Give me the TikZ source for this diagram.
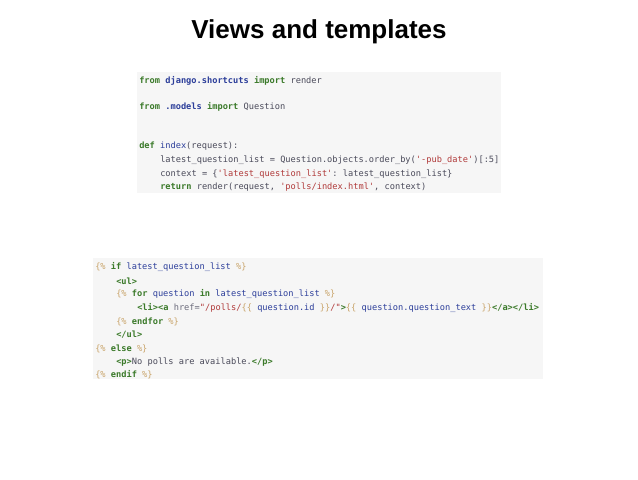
\documentclass[tikz,border=0pt]{standalone}
\usepackage{fontspec}
\setmainfont{Liberation Sans}
\setmonofont{DejaVu Sans Mono}
\definecolor{bg}{HTML}{F6F6F6}
\definecolor{kwc}{HTML}{3B7A2A}
\definecolor{nmc}{HTML}{2C3E9A}
\definecolor{stc}{HTML}{B03A3A}
\definecolor{dlc}{HTML}{C9A46A}
\definecolor{txc}{HTML}{4A4A5A}
\definecolor{atc}{HTML}{6A6A7A}
\newcommand{\kw}[1]{\textcolor{kwc}{\bfseries #1}}
\newcommand{\nm}[1]{\textcolor{nmc}{#1}}
\newcommand{\nb}[1]{\textcolor{nmc}{\bfseries #1}}
\newcommand{\st}[1]{\textcolor{stc}{#1}}
\newcommand{\dl}[1]{\textcolor{dlc}{#1}}
\newcommand{\at}[1]{\textcolor{atc}{#1}}
\begin{document}
\begin{tikzpicture}[x=0.75pt,y=-0.75pt,
  code/.style={anchor=west,inner sep=0pt,font=\ttfamily\fontsize{6.5pt}{7pt}\selectfont,text=txc},
  box/.style={fill=bg,draw=none}]
\useasboundingbox (0,0) rectangle (638,479);
\node[font=\bfseries\fontsize{19.5pt}{22pt}\selectfont,inner sep=0pt] (title) at (319,32) {Views and templates};
\fill[bg] (137,72) rectangle (501,193);
\node[code] (a1) at (139,81) {\kw{from} \nb{django.shortcuts} \kw{import} render};
\node[code] (a2) at (139,107) {\kw{from} \nb{.models} \kw{import} Question};
\node[code] (a3) at (139,146) {\kw{def} \nm{index}(request):};
\node[code] (a4) at (160,160) {latest\_question\_list = Question.objects.order\_by(\st{'-pub\_date'})[:5]};
\node[code] (a5) at (160,174) {context = \{\st{'latest\_question\_list'}: latest\_question\_list\}};
\node[code] (a6) at (160,187) {\kw{return} render(request, \st{'polls/index.html'}, context)};
\fill[bg] (93,258) rectangle (543,379);
\node[code] (b1) at (95,267) {\dl{\{\%} \kw{if} \nm{latest\_question\_list} \dl{\%\}}};
\node[code] (b2) at (116,281) {\kw{<ul>}};
\node[code] (b3) at (116,294) {\dl{\{\%} \kw{for} \nm{question} \kw{in} \nm{latest\_question\_list} \dl{\%\}}};
\node[code] (b4) at (137,308) {\kw{<li><a} \at{href=}\st{"/polls/}\dl{\{\{} \nm{question.id} \dl{\}\}}\st{/"}\kw{>}\dl{\{\{} \nm{question.question\_text} \dl{\}\}}\kw{</a></li>}};
\node[code] (b5) at (116,322) {\dl{\{\%} \kw{endfor} \dl{\%\}}};
\node[code] (b6) at (116,335) {\kw{</ul>}};
\node[code] (b7) at (95,349) {\dl{\{\%} \kw{else} \dl{\%\}}};
\node[code] (b8) at (116,362) {\kw{<p>}No polls are available.\kw{</p>}};
\node[code] (b9) at (95,375) {\dl{\{\%} \kw{endif} \dl{\%\}}};
\end{tikzpicture}
\end{document}
